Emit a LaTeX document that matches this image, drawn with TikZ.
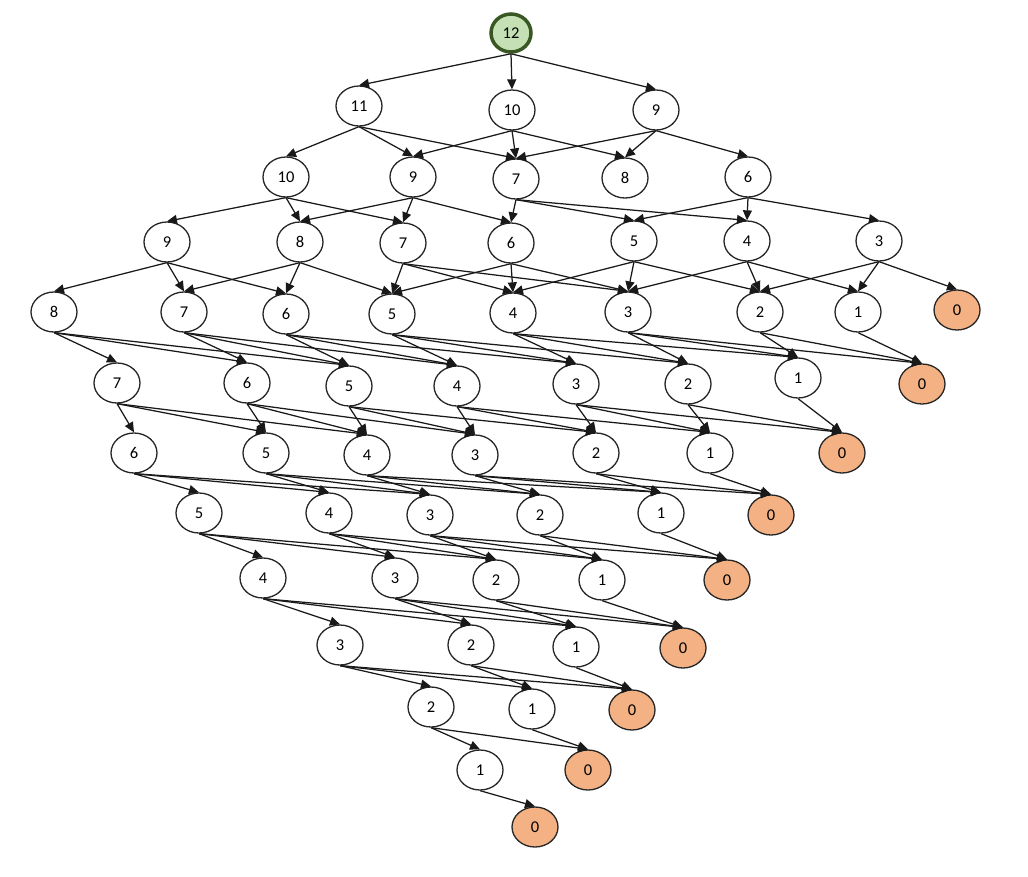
\documentclass[tikz,border=0pt]{standalone}
\usepackage{fontspec}
\setmainfont{Carlito}
\usetikzlibrary{shapes.geometric,arrows.meta}
\definecolor{rootfill}{HTML}{C5E0B4}
\definecolor{rootdraw}{HTML}{385723}
\definecolor{zerofill}{HTML}{F4B183}
\tikzset{
  nd/.style={draw=black!85,line width=1.3pt,ellipse,minimum width=46pt,minimum height=40pt,inner sep=0pt,fill=white,font=\fontsize{16.5}{18}\selectfont},
  rootnd/.style={nd,fill=rootfill,draw=rootdraw,line width=3.5pt,minimum width=40pt,minimum height=38pt},
  zero/.style={nd,fill=zerofill},
  edge/.style={line width=1.25pt,draw=black!90,-{Triangle[length=10pt,width=9pt]},shorten <=0.3pt}
}
\begin{document}
\begin{tikzpicture}[x=1pt,y=-1pt]
\useasboundingbox (0,0) rectangle (1028,876);
% level 1
\node[rootnd] (r12) at (511,33) {12};
% level 2
\node[nd] (a11) at (359,106) {11};
\node[nd] (a10) at (512,110) {10};
\node[nd] (a9) at (656,110) {9};
% level 3
\node[nd] (b10) at (286,177) {10};
\node[nd] (b9) at (413,177) {9};
\node[nd] (b7) at (516,179) {7};
\node[nd] (b8) at (625,178) {8};
\node[nd] (b6) at (748,177) {6};
% level 4
\node[nd] (c9) at (167,242) {9};
\node[nd] (c8) at (300,242) {8};
\node[nd] (c7) at (403,243) {7};
\node[nd] (c6) at (511,243) {6};
\node[nd] (c5) at (634,241) {5};
\node[nd] (c4) at (747,241) {4};
\node[nd] (c3) at (879,241) {3};
% level 5
\node[nd] (d8) at (54,312) {8};
\node[nd] (d7) at (184,312) {7};
\node[nd] (d6) at (286,314) {6};
\node[nd] (d5) at (392,314) {5};
\node[nd] (d4) at (513,313) {4};
\node[nd] (d3) at (628,312) {3};
\node[nd] (d2) at (760,312) {2};
\node[nd] (d1) at (858,312) {1};
\node[zero] (d0) at (957,310) {0};
% level 6
\node[nd] (e7) at (117,383) {7};
\node[nd] (e6) at (247,383) {6};
\node[nd] (e5) at (349,386) {5};
\node[nd] (e4) at (457,386) {4};
\node[nd] (e3) at (576,384) {3};
\node[nd] (e2) at (688,384) {2};
\node[nd] (e1) at (798,378) {1};
\node[zero] (e0) at (922,384) {0};
% level 7
\node[nd] (f6) at (134,453) {6};
\node[nd] (f5) at (266,453) {5};
\node[nd] (f4) at (367,455) {4};
\node[nd] (f3) at (475,455) {3};
\node[nd] (f2) at (596,453) {2};
\node[nd] (f1) at (710,453) {1};
\node[zero] (f0) at (842,453) {0};
% level 8
\node[nd] (g5) at (199,513) {5};
\node[nd] (g4) at (329,513) {4};
\node[nd] (g3) at (430,515) {3};
\node[nd] (g2) at (540,515) {2};
\node[nd] (g1) at (661,513) {1};
\node[zero] (g0) at (771,515) {0};
% level 9
\node[nd] (h4) at (263,578) {4};
\node[nd] (h3) at (395,578) {3};
\node[nd] (h2) at (496,580) {2};
\node[nd] (h1) at (602,580) {1};
\node[zero] (h0) at (727,580) {0};
% level 10
\node[nd] (i3) at (340,645) {3};
\node[nd] (i2) at (471,645) {2};
\node[nd] (i1) at (576,647) {1};
\node[zero] (i0) at (683,648) {0};
% level 11
\node[nd] (j2) at (431,707) {2};
\node[nd] (j1) at (532,709) {1};
\node[zero] (j0) at (632,710) {0};
% level 12
\node[nd] (k1) at (480,770) {1};
\node[zero] (k0) at (588,770) {0};
% level 13
\node[zero] (l0) at (535,827) {0};
% edges
\foreach \s/\t in {r12/a11,r12/a10,r12/a9,
  a11/b10,a11/b9,a11/b7, a10/b9,a10/b7,a10/b8, a9/b7,a9/b8,a9/b6,
  b10/c9,b10/c8,b10/c7, b9/c8,b9/c7,b9/c6, b7/c6,b7/c5,b7/c4, b6/c5,b6/c4,b6/c3,
  c9/d8,c9/d7,c9/d6, c8/d7,c8/d6,c8/d5, c7/d5,c7/d4,c7/d3, c6/d5,c6/d4,c6/d3,
  c5/d4,c5/d3,c5/d2, c4/d3,c4/d2,c4/d1, c3/d2,c3/d1,c3/d0,
  d8/e7,d8/e6,d8/e5, d7/e6,d7/e5,d7/e4, d6/e5,d6/e4,d6/e3, d5/e4,d5/e3,d5/e2,
  d4/e3,d4/e2,d4/e1, d3/e2,d3/e1,d3/e0, d2/e1,d2/e0, d1/e0,
  e7/f6,e7/f5,e7/f4, e6/f5,e6/f4,e6/f3, e5/f4,e5/f3,e5/f2, e4/f3,e4/f2,e4/f1,
  e3/f2,e3/f1,e3/f0, e2/f1,e2/f0, e1/f0,
  f6/g5,f6/g4,f6/g3, f5/g4,f5/g3,f5/g2, f4/g3,f4/g2,f4/g1, f3/g2,f3/g1,f3/g0,
  f2/g1,f2/g0, f1/g0,
  g5/h4,g5/h3,g5/h2, g4/h3,g4/h2,g4/h1, g3/h2,g3/h1,g3/h0, g2/h1,g2/h0, g1/h0,
  h4/i3,h4/i2,h4/i1, h3/i2,h3/i1,h3/i0, h2/i1,h2/i0, h1/i0,
  i3/j2,i3/j1,i3/j0, i2/j1,i2/j0, i1/j0,
  j2/k1,j2/k0, j1/k0,
  k1/l0}
  \draw[edge] (\s.south) -- (\t.north);
\end{tikzpicture}
\end{document}
